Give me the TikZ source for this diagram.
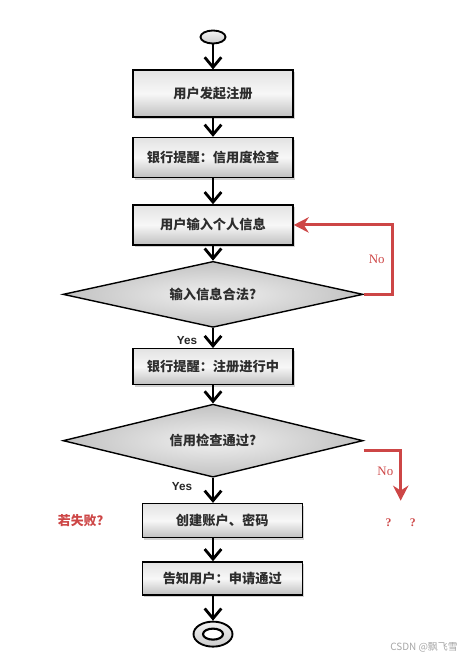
\documentclass[tikz,border=0pt]{standalone}
\usepackage{fontspec}
\setmainfont{Liberation Serif}
\newfontfamily\cjk{Noto Sans CJK SC}
\newfontfamily\yesfont{Liberation Sans}
\usetikzlibrary{shapes.geometric,arrows.meta,positioning,shadows,calc}
\definecolor{noRed}{RGB}{205,70,70}
\definecolor{boxText}{RGB}{45,45,45}
\tikzset{
  stepbox/.style={draw, line width=1.2pt, minimum width=4.8cm, inner sep=2pt,
    top color=gray!22, bottom color=gray!50, middle color=gray!6,
    drop shadow={shadow xshift=0.05cm, shadow yshift=-0.06cm, opacity=0.35},
    font=\cjk\bfseries\fontsize{11.3}{13}\selectfont, text=boxText, align=center},
  checkbox/.style={diamond, draw, line width=1.2pt, minimum width=9cm, aspect=4.5, inner sep=0pt,
    inner color=gray!12, outer color=gray!48,
    font=\cjk\bfseries\fontsize{11.3}{13}\selectfont, text=boxText, align=center},
  endcap/.style={ellipse, draw, line width=1.6pt, inner sep=0pt, top color=gray!10, bottom color=gray!40},
  flowarrow/.style={-{Straight Barb[length=3mm,width=5mm]}, line width=2.4pt},
  noarrow/.style={-{Stealth[length=4.5mm,width=4.6mm]}, line width=2.6pt, draw=noRed},
  yeslabel/.style={font=\yesfont\bfseries\fontsize{10}{12}\selectfont, text=black!85},
  nolabel/.style={font=\fontsize{11}{12}\selectfont, text=noRed},
  failmark/.style={font=\cjk\bfseries\fontsize{11}{13}\selectfont, text=noRed},
}
\begin{document}
\begin{tikzpicture}
  \useasboundingbox (-6.39,1.11) rectangle (7.83,-18.72);

  \node[endcap, minimum width=0.75cm, minimum height=0.39cm] (start) at (0,0) {};
  \node[stepbox, below=0.75cm of start, minimum height=1.41cm] (b1) {用户发起注册};
  \node[stepbox, below=0.57cm of b1, minimum height=1.2cm] (b2) {银行提醒：信用度检查};
  \node[stepbox, below=0.78cm of b2, minimum height=1.2cm] (b3) {用户输入个人信息};
  \node[checkbox, below=0.45cm of b3, minimum height=1.98cm] (d1) {\raisebox{-0.27cm}{输入信息合法?}};
  \node[stepbox, below=0.6cm of d1, minimum height=1.08cm] (b4) {银行提醒：注册进行中};
  \node[checkbox, below=0.54cm of b4, minimum height=2.19cm] (d2) {信用检查通过?};
  \node[stepbox, below=0.75cm of d2, xshift=0.28cm, minimum height=1.02cm] (b5) {创建账户、密码};
  \node[stepbox, below=0.69cm of b5, minimum height=0.99cm] (b6) {告知用户：申请通过};
  \node[endcap, below=0.75cm of b6, xshift=-0.28cm, minimum width=1.17cm, minimum height=0.75cm] (end) {};
  \node[ellipse, draw, line width=1.8pt, fill=white, inner sep=0pt,
    minimum width=0.6cm, minimum height=0.33cm] (endin) at (end) {};

  % main flow
  \foreach \a/\b in {start/b1, b1/b2, b2/b3, b3/d1, d1/b4, b4/d2}
    \draw[flowarrow] (\a) -- (\b);
  \draw[flowarrow] (d2.south) -- (d2.south |- b5.north);
  \draw[flowarrow] (d2.south |- b5.south) -- (d2.south |- b6.north);
  \draw[flowarrow] (end |- b6.south) -- (end.north);

  % labels
  \node[yeslabel] (yes1) at ($(b4.north)+(-0.78,0.24)$) {Yes};
  \node[yeslabel] (yes2) at ($(d2.south)+(-0.93,-0.27)$) {Yes};

  % no branches
  \draw[noarrow] (d1.east) -- ++(0.87,0) |- (b3.east);
  \node[nolabel] (no1) at ($(d1.east)+(0.39,1.05)$) {No};
  \coordinate (nofail) at ($(d2.east)+(1.11,-1.8)$);
  \draw[noarrow] ([yshift=-0.3cm]d2.east) -| (nofail);
  \node[nolabel] (no2) at ($(d2.east)+(0.65,-0.93)$) {No};
  \node[failmark, below=0.42cm of nofail, font=\bfseries\fontsize{10}{12}\selectfont] (qmarks) {?\hspace{0.55cm}?};
  \node[failmark, left=0.84cm of b5] (fail) {若失败？};

  \node[anchor=east, text=gray!70, font=\cjk\fontsize{8.5}{10}\selectfont] (mark) at (7.47,-18.3) {CSDN @飘飞雪};
\end{tikzpicture}
\end{document}
